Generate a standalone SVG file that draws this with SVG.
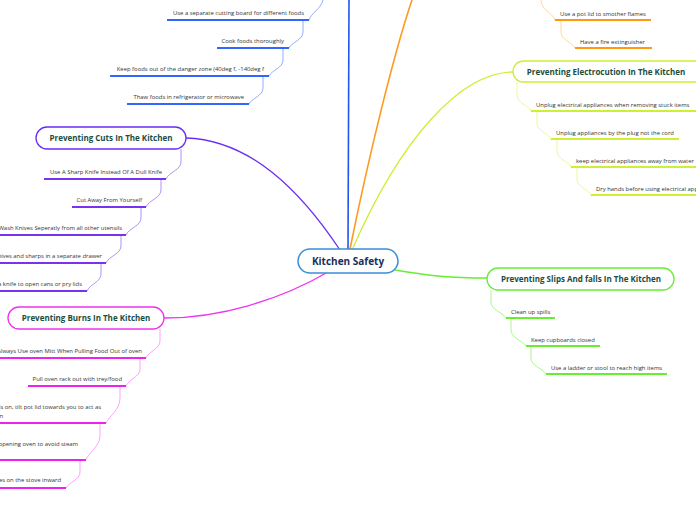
<svg xmlns="http://www.w3.org/2000/svg" width="696" height="520" viewBox="0 0 696 520">
<style>
text{font-family:"Open Sans","Noto Sans","DejaVu Sans",sans-serif;}
.t{font-size:5.9px;fill:#333;}
.h{font-size:8px;font-weight:bold;fill:#1b4d3e;text-anchor:middle;}
.u{stroke-width:2;}
.thin{fill:none;stroke-width:0.8;}
</style>
<rect width="696" height="520" fill="#fff"/>
<g id="connectors" fill="none">
<path d="M340 250 C300 190 250 140 186 138" stroke="#6a2df5" stroke-width="1.3"/>
<path d="M328 272 C280 300 220 318 164 318" stroke="#ee33ee" stroke-width="1.3"/>
<path d="M348 249 C349 160 349 80 349 0" stroke="#2255ee" stroke-width="1.6"/>
<path d="M350 249 C370 150 395 50 412 0" stroke="#ff9922" stroke-width="1.6"/>
<path d="M352 250 C400 140 460 72 513 72" stroke="#ccf033" stroke-width="1.3"/>
<path d="M395 270 C430 276 450 278 487 278" stroke="#66ee33" stroke-width="1.3"/>
<g stroke="#7799ff" class="thin">
<path d="M323 0 C320 10 312 12 309 20"/>
<path d="M303 20 V32 C303 40 292 42 289 48"/>
<path d="M283 48 V60 C283 68 272 70 269 76"/>
<path d="M263 76 V88 C263 96 252 98 249 104"/>
</g>
<g stroke="#9977ff" class="thin">
<path d="M181 149 V162 C181 170 169 172 166 179"/>
<path d="M161 179 V190 C161 198 149 200 146 207"/>
<path d="M141 207 V218 C141 226 129 228 126 235"/>
<path d="M121 235 V246 C121 254 109 256 106 263"/>
<path d="M101 263 V274 C101 282 90 284 87 291"/>
</g>
<g stroke="#ff88ff" class="thin">
<path d="M160 329 V341 C160 349 149 351 146 358"/>
<path d="M140 358 V369 C140 377 129 379 126 386"/>
<path d="M120 386 V398 C120 410 109 416 106 423"/>
<path d="M100 423 V436 C100 446 89 452 86 460"/>
<path d="M80 460 V472 C80 480 69 482 66 488"/>
</g>
<g stroke="#ffcc88" class="thin">
<path d="M541 0 C541 10 552 12 555 20"/>
<path d="M561 20 V32 C561 40 572 42 575 48"/>
</g>
<g stroke="#e6f77a" class="thin">
<path d="M517 82 V95 C517 103 528 105 531 111"/>
<path d="M537 111 V123 C537 131 548 133 551 139"/>
<path d="M557 139 V151 C557 159 568 161 571 167"/>
<path d="M577 167 V179 C577 187 588 189 591 195"/>
</g>
<g stroke="#99f07a" class="thin">
<path d="M491 290 V302 C491 310 502 312 506 318"/>
<path d="M511 318 V330 C511 338 522 340 526 346"/>
<path d="M531 346 V358 C531 366 542 368 546 374"/>
</g>
</g>
<g id="center">
<rect x="298" y="249" width="100" height="24" rx="12" fill="#fff" stroke="#3a8fd9" stroke-width="1.5"/>
<text x="348" y="265" style="font-size:10px;font-weight:bold;fill:#1a2f5a;text-anchor:middle">Kitchen Safety</text>
</g>
<g id="cuts">
<rect x="36" y="127" width="150" height="22" rx="11" fill="#fff" stroke="#6a2df5" stroke-width="1.3"/>
<text class="h" x="111" y="141">Preventing Cuts In The Kitchen</text>
</g>
<g id="burns">
<rect x="8" y="307" width="156" height="22" rx="11" fill="#fff" stroke="#ee33ee" stroke-width="1.3"/>
<text class="h" x="86" y="321">Preventing Burns In The Kitchen</text>
</g>
<g id="electro">
<rect x="513" y="61" width="200" height="21" rx="10.5" fill="#fff" stroke="#ccf033" stroke-width="1.3"/>
<text class="h" x="606" y="75">Preventing Electrocution In The Kitchen</text>
</g>
<g id="slips">
<rect x="487" y="268" width="187" height="22" rx="11" fill="#fff" stroke="#66ee33" stroke-width="1.3"/>
<text class="h" x="581" y="282">Preventing Slips And falls In The Kitchen</text>
</g>
<g id="food-items" style="text-anchor:end">
<text class="t" x="304" y="15">Use a separate cutting board for different foods</text>
<line class="u" x1="167" y1="20" x2="309" y2="20" stroke="#3366ff"/>
<text class="t" x="284" y="43">Cook foods thoroughly</text>
<line class="u" x1="217" y1="48" x2="289" y2="48" stroke="#3366ff"/>
<text class="t" x="264" y="71">Keep foods out of the danger zone (40deg f, -140deg f</text>
<line class="u" x1="110" y1="76" x2="269" y2="76" stroke="#3366ff"/>
<text class="t" x="244" y="99">Thaw foods in refrigerator or microwave</text>
<line class="u" x1="127" y1="104" x2="249" y2="104" stroke="#3366ff"/>
</g>
<g id="cut-items" style="text-anchor:end">
<text class="t" x="162" y="174">Use A Sharp Knife Instead Of A Dull Knife</text>
<line class="u" x1="44" y1="179" x2="166" y2="179" stroke="#7733ee"/>
<text class="t" x="142" y="202">Cut Away From Yourself</text>
<line class="u" x1="72" y1="207" x2="146" y2="207" stroke="#7733ee"/>
<text class="t" x="122" y="230">Wash Knives Seperatly from all other utensils</text>
<line class="u" x1="0" y1="235" x2="126" y2="235" stroke="#7733ee"/>
<text class="t" x="102" y="258">Store knives and sharps in a separate drawer</text>
<line class="u" x1="0" y1="263" x2="106" y2="263" stroke="#7733ee"/>
<text class="t" x="82" y="286">Never use a knife to open cans or pry lids</text>
<line class="u" x1="0" y1="291" x2="87" y2="291" stroke="#7733ee"/>
</g>
<g id="burn-items" style="text-anchor:end">
<text class="t" x="142" y="353">Always Use oven Mitt When Pulling Food Out of oven</text>
<line class="u" x1="0" y1="358" x2="146" y2="358" stroke="#ee22ee"/>
<text class="t" x="122" y="381">Pull oven rack out with trey/food</text>
<line class="u" x1="28" y1="386" x2="126" y2="386" stroke="#ee22ee"/>
<text class="t" x="101" y="409">When the stove is on, tilt pot lid towards you to act as</text>
<text class="t" x="3" y="418">protection</text>
<line class="u" x1="0" y1="423" x2="106" y2="423" stroke="#ee22ee"/>
<text class="t" x="78" y="446">Stand back when opening oven to avoid steam</text>
<line class="u" x1="0" y1="460" x2="86" y2="460" stroke="#ee22ee"/>
<text class="t" x="61" y="482">Turn pot handles on the stove inward</text>
<line class="u" x1="0" y1="488" x2="66" y2="488" stroke="#ee22ee"/>
</g>
<g id="fire-items">
<text class="t" x="560" y="16">Use a pot lid to smother flames</text>
<line class="u" x1="555" y1="20" x2="651" y2="20" stroke="#ff9911"/>
<text class="t" x="580" y="44">Have a fire extinguisher</text>
<line class="u" x1="575" y1="48" x2="652" y2="48" stroke="#ff9911"/>
</g>
<g id="electro-items">
<text class="t" x="536" y="107">Unplug electrical appliances when removing stuck items</text>
<line class="u" x1="531" y1="111" x2="696" y2="111" stroke="#ccf033"/>
<text class="t" x="556" y="135">Unplug appliances by the plug not the cord</text>
<line class="u" x1="551" y1="139" x2="679" y2="139" stroke="#ccf033"/>
<text class="t" x="576" y="163">keep electrical appliances away from water</text>
<line class="u" x1="571" y1="167" x2="696" y2="167" stroke="#ccf033"/>
<text class="t" x="596" y="191">Dry hands before using electrical appliances</text>
<line class="u" x1="591" y1="195" x2="696" y2="195" stroke="#ccf033"/>
</g>
<g id="slip-items">
<text class="t" x="511" y="314">Clean up spills</text>
<line class="u" x1="506" y1="318" x2="555" y2="318" stroke="#66ee33"/>
<text class="t" x="531" y="342">Keep cupboards closed</text>
<line class="u" x1="526" y1="346" x2="600" y2="346" stroke="#66ee33"/>
<text class="t" x="551" y="370">Use a ladder or stool to reach high items</text>
<line class="u" x1="546" y1="374" x2="667" y2="374" stroke="#66ee33"/>
</g>
</svg>
